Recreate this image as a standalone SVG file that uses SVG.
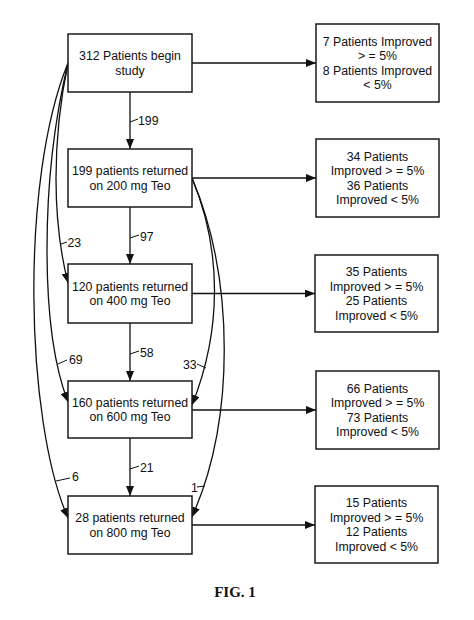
<svg xmlns="http://www.w3.org/2000/svg" width="474" height="620" viewBox="0 0 474 620">
<style>
.box{fill:#fff;stroke:#1a1a1a;stroke-width:1.5}
.t{font-family:"Liberation Sans",Arial,sans-serif;font-size:12.3px;fill:#111;text-anchor:middle}
.l{font-family:"Liberation Sans",Arial,sans-serif;font-size:12.3px;fill:#111}
.c{fill:none;stroke:#111;stroke-width:1.3}
.tk{fill:none;stroke:#111;stroke-width:1}
.cap{font-family:"Liberation Serif","Times New Roman",serif;font-size:15px;font-weight:bold;fill:#111;text-anchor:middle}
</style>
<defs>
<marker id="ah" markerUnits="userSpaceOnUse" markerWidth="10" markerHeight="8" refX="10" refY="4" orient="auto">
<path d="M0,0 L10,4 L0,8 z" fill="#111"/>
</marker>
</defs>
<rect width="474" height="620" fill="#fff"/>
<g id="connectors">
<path class="c" d="M130,92 V149" marker-end="url(#ah)"/>
<path class="c" d="M130,207 V264" marker-end="url(#ah)"/>
<path class="c" d="M130,323 V381" marker-end="url(#ah)"/>
<path class="c" d="M130,438 V496" marker-end="url(#ah)"/>
<path class="c" d="M192,63 H316" marker-end="url(#ah)"/>
<path class="c" d="M192,178 H316" marker-end="url(#ah)"/>
<path class="c" d="M192,293.5 H315" marker-end="url(#ah)"/>
<path class="c" d="M192,410 H316" marker-end="url(#ah)"/>
<path class="c" d="M192,525 H315" marker-end="url(#ah)"/>
<path class="c" d="M68,63 C52,140 52,220 68,283" marker-end="url(#ah)"/>
<path class="c" d="M68,63 C40,180 40,330 68,402" marker-end="url(#ah)"/>
<path class="c" d="M68,63 C20,180 25,420 68,518" marker-end="url(#ah)"/>
<path class="c" d="M192,178 C222,250 222,330 192,405" marker-end="url(#ah)"/>
<path class="c" d="M192,178 C235,280 235,420 192,517" marker-end="url(#ah)"/>
<path class="tk" d="M130,122 L138,119"/>
<path class="tk" d="M130,238 L139,235"/>
<path class="tk" d="M130,354 L139,351"/>
<path class="tk" d="M130,469 L139,466"/>
<path class="tk" d="M61,244 L67,242"/>
<path class="tk" d="M58,364 L67,360"/>
<path class="tk" d="M56,481 L70,478"/>
<path class="tk" d="M197,364 L206,368"/>
<path class="tk" d="M197,487 L205,486"/>
<text class="l" x="138" y="124.5">199</text>
<text class="l" x="140" y="240.5">97</text>
<text class="l" x="140" y="356.5">58</text>
<text class="l" x="140" y="471.5">21</text>
<text class="l" x="67.5" y="246.5">23</text>
<text class="l" x="69" y="363.5">69</text>
<text class="l" x="72" y="480.5">6</text>
<text class="l" x="183" y="368.5">33</text>
<text class="l" x="191" y="491.5">1</text>
</g>
<g id="n1"><rect class="box" x="68" y="34" width="124" height="58"/><text class="t" x="130" y="60">312 Patients begin</text><text class="t" x="130" y="74.5">study</text></g>
<g id="n2"><rect class="box" x="68" y="149" width="124" height="58"/><text class="t" x="130" y="175">199 patients returned</text><text class="t" x="130" y="189.5">on 200 mg Teo</text></g>
<g id="n3"><rect class="box" x="68" y="264" width="124" height="59"/><text class="t" x="130" y="290.5">120 patients returned</text><text class="t" x="130" y="305">on 400 mg Teo</text></g>
<g id="n4"><rect class="box" x="68" y="381" width="124" height="57"/><text class="t" x="130" y="406.5">160 patients returned</text><text class="t" x="130" y="421">on 600 mg Teo</text></g>
<g id="n5"><rect class="box" x="68" y="496" width="124" height="58"/><text class="t" x="130" y="522">28 patients returned</text><text class="t" x="130" y="536.5">on 800 mg Teo</text></g>
<g id="r1"><rect class="box" x="316" y="24" width="123" height="78"/><text class="t" x="377.5" y="45.5">7 Patients Improved</text><text class="t" x="377.5" y="60.1">&gt; = 5%</text><text class="t" x="377.5" y="74.7">8 Patients Improved</text><text class="t" x="377.5" y="89.3">&lt; 5%</text></g>
<g id="r2"><rect class="box" x="316" y="139" width="123" height="78"/><text class="t" x="377.5" y="160.5">34 Patients</text><text class="t" x="377.5" y="175.1">Improved &gt; = 5%</text><text class="t" x="377.5" y="189.7">36 Patients</text><text class="t" x="377.5" y="204.3">Improved &lt; 5%</text></g>
<g id="r3"><rect class="box" x="315" y="255" width="123" height="77"/><text class="t" x="376.5" y="276">35 Patients</text><text class="t" x="376.5" y="290.6">Improved &gt; = 5%</text><text class="t" x="376.5" y="305.2">25 Patients</text><text class="t" x="376.5" y="319.8">Improved &lt; 5%</text></g>
<g id="r4"><rect class="box" x="316" y="371" width="123" height="78"/><text class="t" x="377.5" y="392.5">66 Patients</text><text class="t" x="377.5" y="407.1">Improved &gt; = 5%</text><text class="t" x="377.5" y="421.7">73 Patients</text><text class="t" x="377.5" y="436.3">Improved &lt; 5%</text></g>
<g id="r5"><rect class="box" x="315" y="486" width="123" height="77"/><text class="t" x="376.5" y="507">15 Patients</text><text class="t" x="376.5" y="521.6">Improved &gt; = 5%</text><text class="t" x="376.5" y="536.2">12 Patients</text><text class="t" x="376.5" y="550.8">Improved &lt; 5%</text></g>
<text class="cap" x="235" y="597">FIG. 1</text>
</svg>
